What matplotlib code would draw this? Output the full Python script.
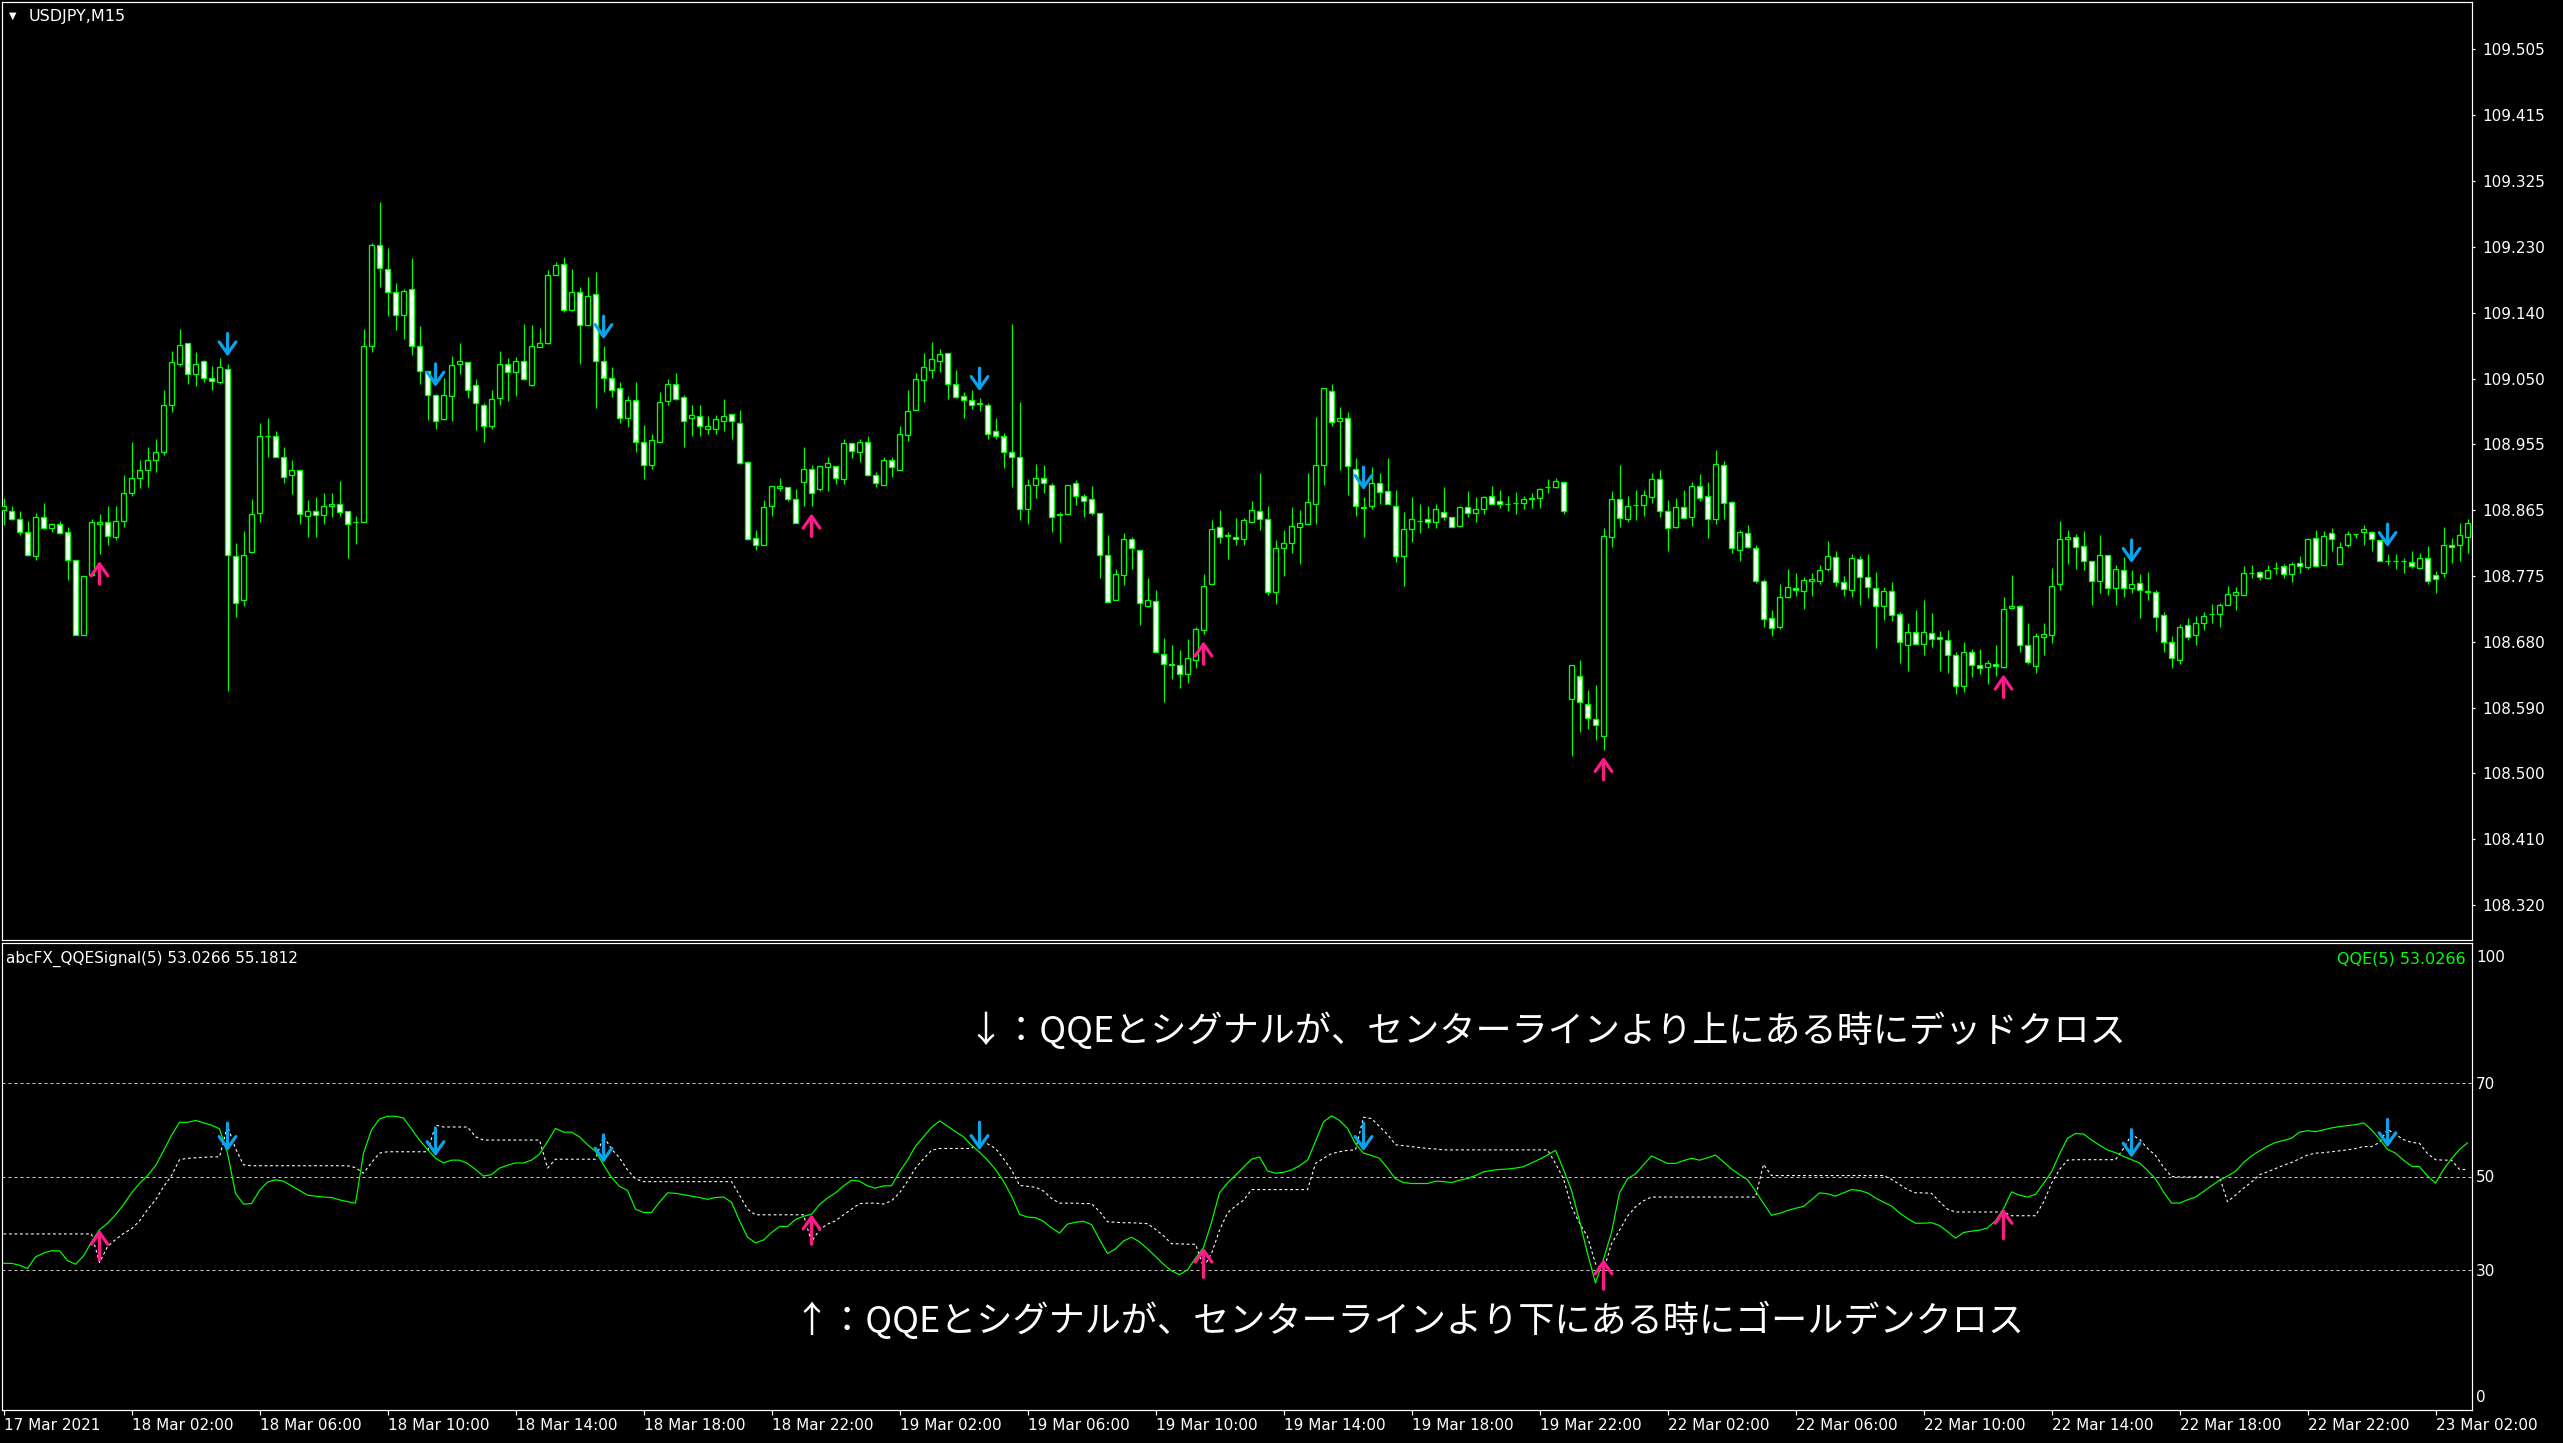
import matplotlib
matplotlib.use("Agg")
import matplotlib.pyplot as plt
import numpy as np

# USDJPY M15 candles (bar 0 = left edge)
opens = [
    108.867, 108.866, 108.855, 108.836, 108.803, 108.858, 108.842, 108.848, 108.836, 108.798,
    108.694, 108.777, 108.848, 108.851, 108.830, 108.852, 108.891, 108.912, 108.923, 108.936,
    108.948, 109.012, 109.069, 109.098, 109.055, 109.073, 109.050, 109.044, 109.063, 108.804,
    108.742, 108.809, 108.863, 108.969, 108.969, 108.941, 108.915, 108.923, 108.859, 108.866,
    108.860, 108.873, 108.875, 108.866, 108.850, 108.850, 109.094, 109.234, 109.201, 109.169,
    109.137, 109.173, 109.094, 109.059, 109.026, 108.993, 109.025, 109.069, 109.072, 109.040,
    109.012, 108.984, 109.022, 109.069, 109.058, 109.073, 109.040, 109.093, 109.098, 109.193,
    109.208, 109.144, 109.169, 109.123, 109.166, 109.073, 109.050, 109.036, 108.995, 109.019,
    108.962, 108.930, 108.962, 109.018, 109.041, 109.024, 108.994, 108.998, 108.980, 108.980,
    108.990, 109.000, 108.987, 108.933, 108.828, 108.819, 108.873, 108.898, 108.899, 108.882,
    108.906, 108.924, 108.896, 108.927, 108.928, 108.910, 108.960, 108.948, 108.962, 108.916,
    108.902, 108.937, 108.923, 108.971, 109.006, 109.047, 109.061, 109.074, 109.084, 109.041,
    109.025, 109.020, 109.015, 109.012, 108.976, 108.970, 108.948, 108.941, 108.869, 108.902,
    108.912, 108.902, 108.861, 108.861, 108.905, 108.887, 108.882, 108.863, 108.805, 108.742,
    108.777, 108.827, 108.812, 108.734, 108.741, 108.668, 108.654, 108.652, 108.640, 108.659,
    108.701, 108.765, 108.843, 108.832, 108.830, 108.827, 108.851, 108.866, 108.855, 108.753,
    108.814, 108.822, 108.843, 108.848, 108.876, 108.930, 109.032, 108.990, 108.995, 108.924,
    108.871, 108.872, 108.904, 108.893, 108.873, 108.803, 108.841, 108.852, 108.854, 108.851,
    108.864, 108.858, 108.845, 108.871, 108.863, 108.868, 108.886, 108.879, 108.876, 108.877,
    108.877, 108.883, 108.884, 108.899, 108.899, 108.906, 108.605, 108.637, 108.599, 108.578,
    108.554, 108.830, 108.882, 108.855, 108.874, 108.874, 108.885, 108.910, 108.866, 108.843,
    108.871, 108.858, 108.901, 108.886, 108.855, 108.930, 108.878, 108.812, 108.835, 108.815,
    108.769, 108.717, 108.705, 108.747, 108.759, 108.755, 108.769, 108.769, 108.785, 108.802,
    108.767, 108.756, 108.799, 108.775, 108.759, 108.734, 108.755, 108.723, 108.680, 108.698,
    108.681, 108.697, 108.691, 108.687, 108.666, 108.624, 108.671, 108.653, 108.650, 108.654,
    108.650, 108.731, 108.734, 108.680, 108.651, 108.691, 108.694, 108.764, 108.827, 108.830,
    108.817, 108.797, 108.769, 108.805, 108.759, 108.784, 108.759, 108.766, 108.755, 108.754,
    108.722, 108.685, 108.659, 108.708, 108.694, 108.710, 108.723, 108.723, 108.736, 108.750,
    108.750, 108.780, 108.781, 108.773, 108.787, 108.790, 108.778, 108.794, 108.788, 108.828,
    108.791, 108.835, 108.792, 108.818, 108.834, 108.837, 108.837, 108.825, 108.797, 108.797,
    108.797, 108.795, 108.787, 108.801, 108.777, 108.780, 108.819, 108.818, 108.830,
]
highs = [
    108.884, 108.873, 108.866, 108.852, 108.863, 108.877, 108.848, 108.852, 108.843, 108.798,
    108.776, 108.855, 108.861, 108.872, 108.873, 108.915, 108.962, 108.937, 108.955, 108.965,
    109.034, 109.087, 109.118, 109.098, 109.086, 109.075, 109.067, 109.078, 109.070, 108.821,
    108.838, 108.882, 108.988, 108.994, 108.977, 108.954, 108.936, 108.923, 108.881, 108.885,
    108.890, 108.890, 108.907, 108.866, 108.859, 109.118, 109.237, 109.294, 109.230, 109.181,
    109.173, 109.216, 109.122, 109.059, 109.028, 109.050, 109.081, 109.098, 109.072, 109.049,
    109.016, 109.034, 109.088, 109.078, 109.079, 109.125, 109.124, 109.119, 109.199, 109.210,
    109.218, 109.201, 109.176, 109.190, 109.197, 109.094, 109.065, 109.044, 109.025, 109.045,
    108.985, 108.972, 109.030, 109.049, 109.057, 109.026, 109.013, 109.013, 108.998, 108.999,
    109.021, 109.000, 109.005, 108.935, 108.839, 108.881, 108.900, 108.911, 108.899, 108.896,
    108.954, 108.929, 108.928, 108.940, 108.928, 108.966, 108.960, 108.966, 108.970, 108.920,
    108.940, 108.941, 108.983, 109.034, 109.057, 109.085, 109.100, 109.090, 109.084, 109.061,
    109.030, 109.034, 109.022, 109.015, 108.994, 108.974, 109.125, 109.017, 108.910, 108.931,
    108.930, 108.905, 108.865, 108.902, 108.909, 108.889, 108.901, 108.863, 108.832, 108.785,
    108.835, 108.830, 108.812, 108.773, 108.757, 108.690, 108.680, 108.673, 108.689, 108.705,
    108.779, 108.853, 108.867, 108.836, 108.856, 108.856, 108.879, 108.919, 108.872, 108.825,
    108.839, 108.871, 108.867, 108.918, 108.996, 109.036, 109.042, 109.010, 109.003, 108.939,
    108.885, 108.927, 108.918, 108.939, 108.895, 108.865, 108.885, 108.875, 108.872, 108.876,
    108.899, 108.858, 108.873, 108.893, 108.885, 108.887, 108.901, 108.895, 108.887, 108.892,
    108.886, 108.890, 108.898, 108.910, 108.912, 108.906, 108.653, 108.659, 108.618, 108.625,
    108.842, 108.893, 108.929, 108.886, 108.895, 108.895, 108.919, 108.923, 108.881, 108.884,
    108.895, 108.906, 108.917, 108.906, 108.950, 108.935, 108.880, 108.839, 108.846, 108.818,
    108.772, 108.728, 108.765, 108.786, 108.780, 108.774, 108.780, 108.791, 108.824, 108.811,
    108.776, 108.806, 108.804, 108.806, 108.781, 108.760, 108.767, 108.726, 108.710, 108.729,
    108.742, 108.724, 108.700, 108.701, 108.670, 108.684, 108.674, 108.675, 108.659, 108.680,
    108.747, 108.777, 108.736, 108.710, 108.697, 108.711, 108.787, 108.852, 108.840, 108.834,
    108.838, 108.797, 108.832, 108.805, 108.791, 108.802, 108.784, 108.779, 108.781, 108.757,
    108.726, 108.692, 108.709, 108.718, 108.720, 108.726, 108.737, 108.738, 108.762, 108.760,
    108.790, 108.791, 108.783, 108.791, 108.795, 108.793, 108.795, 108.803, 108.829, 108.839,
    108.838, 108.842, 108.823, 108.838, 108.834, 108.846, 108.838, 108.825, 108.806, 108.806,
    108.800, 108.811, 108.808, 108.817, 108.782, 108.844, 108.828, 108.849, 108.855,
]
lows = [
    108.846, 108.853, 108.832, 108.804, 108.798, 108.841, 108.837, 108.834, 108.770, 108.694,
    108.694, 108.776, 108.806, 108.819, 108.825, 108.843, 108.887, 108.898, 108.899, 108.920,
    108.944, 109.003, 109.067, 109.041, 109.039, 109.044, 109.033, 109.041, 108.616, 108.719,
    108.734, 108.807, 108.851, 108.940, 108.940, 108.905, 108.889, 108.848, 108.830, 108.830,
    108.848, 108.858, 108.859, 108.801, 108.820, 108.850, 109.086, 109.176, 109.136, 109.116,
    109.104, 109.082, 109.042, 108.992, 108.980, 108.992, 108.991, 109.056, 109.022, 108.978,
    108.962, 108.980, 109.013, 109.018, 109.025, 109.047, 109.039, 109.093, 109.097, 109.193,
    109.141, 109.143, 109.069, 109.122, 109.009, 109.030, 109.023, 108.987, 108.982, 108.947,
    108.910, 108.924, 108.961, 109.012, 109.020, 108.954, 108.969, 108.969, 108.973, 108.972,
    108.977, 108.965, 108.931, 108.826, 108.812, 108.819, 108.859, 108.893, 108.880, 108.849,
    108.872, 108.872, 108.893, 108.893, 108.903, 108.903, 108.939, 108.934, 108.914, 108.899,
    108.902, 108.913, 108.923, 108.963, 109.006, 109.017, 109.050, 109.058, 109.021, 109.022,
    108.995, 109.007, 109.004, 108.965, 108.965, 108.925, 108.899, 108.853, 108.848, 108.884,
    108.890, 108.837, 108.823, 108.861, 108.874, 108.858, 108.860, 108.773, 108.740, 108.742,
    108.763, 108.786, 108.708, 108.733, 108.670, 108.601, 108.633, 108.621, 108.628, 108.649,
    108.695, 108.765, 108.822, 108.799, 108.819, 108.819, 108.850, 108.840, 108.749, 108.737,
    108.776, 108.807, 108.793, 108.848, 108.848, 108.902, 108.984, 108.923, 108.888, 108.859,
    108.830, 108.868, 108.876, 108.876, 108.795, 108.762, 108.823, 108.835, 108.842, 108.842,
    108.853, 108.843, 108.844, 108.858, 108.851, 108.862, 108.875, 108.870, 108.866, 108.862,
    108.868, 108.870, 108.870, 108.891, 108.898, 108.862, 108.527, 108.560, 108.564, 108.548,
    108.535, 108.816, 108.843, 108.851, 108.853, 108.859, 108.877, 108.858, 108.811, 108.842,
    108.856, 108.845, 108.880, 108.828, 108.848, 108.855, 108.808, 108.796, 108.814, 108.766,
    108.705, 108.692, 108.702, 108.745, 108.748, 108.730, 108.748, 108.765, 108.783, 108.762,
    108.748, 108.746, 108.736, 108.745, 108.676, 108.715, 108.714, 108.655, 108.644, 108.680,
    108.666, 108.678, 108.644, 108.642, 108.612, 108.615, 108.636, 108.640, 108.626, 108.637,
    108.649, 108.731, 108.670, 108.654, 108.641, 108.667, 108.683, 108.756, 108.792, 108.786,
    108.784, 108.735, 108.752, 108.750, 108.736, 108.746, 108.752, 108.718, 108.742, 108.699,
    108.670, 108.648, 108.654, 108.687, 108.680, 108.701, 108.710, 108.705, 108.735, 108.728,
    108.750, 108.773, 108.770, 108.773, 108.779, 108.773, 108.767, 108.780, 108.786, 108.788,
    108.790, 108.811, 108.792, 108.816, 108.828, 108.819, 108.810, 108.796, 108.791, 108.785,
    108.780, 108.787, 108.786, 108.765, 108.752, 108.774, 108.794, 108.797, 108.808,
]
closes = [
    108.873, 108.855, 108.837, 108.805, 108.858, 108.842, 108.848, 108.835, 108.798, 108.694,
    108.776, 108.850, 108.851, 108.831, 108.852, 108.891, 108.912, 108.922, 108.937, 108.948,
    109.012, 109.072, 109.095, 109.055, 109.070, 109.050, 109.046, 109.065, 108.805, 108.738,
    108.805, 108.861, 108.969, 108.970, 108.941, 108.913, 108.923, 108.861, 108.866, 108.860,
    108.872, 108.875, 108.865, 108.848, 108.851, 109.094, 109.234, 109.202, 109.169, 109.137,
    109.171, 109.094, 109.060, 109.026, 108.990, 109.026, 109.068, 109.073, 109.034, 109.015,
    108.984, 109.021, 109.069, 109.058, 109.073, 109.048, 109.094, 109.098, 109.193, 109.207,
    109.144, 109.169, 109.123, 109.164, 109.073, 109.050, 109.034, 108.995, 109.019, 108.961,
    108.930, 108.964, 109.017, 109.041, 109.021, 108.991, 108.999, 108.984, 108.983, 108.993,
    108.998, 108.990, 108.932, 108.827, 108.819, 108.871, 108.900, 108.901, 108.883, 108.849,
    108.924, 108.891, 108.928, 108.932, 108.912, 108.960, 108.949, 108.962, 108.916, 108.905,
    108.936, 108.926, 108.973, 109.004, 109.048, 109.065, 109.076, 109.083, 109.041, 109.023,
    109.019, 109.013, 109.014, 108.973, 108.969, 108.947, 108.941, 108.868, 108.902, 108.911,
    108.905, 108.858, 108.860, 108.902, 108.887, 108.880, 108.863, 108.805, 108.740, 108.778,
    108.827, 108.814, 108.738, 108.742, 108.671, 108.654, 108.653, 108.640, 108.662, 108.702,
    108.762, 108.841, 108.830, 108.831, 108.827, 108.853, 108.867, 108.855, 108.753, 108.814,
    108.821, 108.845, 108.849, 108.878, 108.929, 109.036, 108.989, 108.995, 108.928, 108.872,
    108.870, 108.905, 108.892, 108.876, 108.804, 108.841, 108.854, 108.852, 108.851, 108.868,
    108.857, 108.844, 108.871, 108.863, 108.869, 108.885, 108.876, 108.875, 108.876, 108.877,
    108.882, 108.884, 108.896, 108.899, 108.907, 108.866, 108.653, 108.601, 108.579, 108.569,
    108.831, 108.882, 108.856, 108.873, 108.874, 108.888, 108.910, 108.866, 108.842, 108.871,
    108.856, 108.901, 108.884, 108.855, 108.931, 108.877, 108.815, 108.836, 108.816, 108.769,
    108.716, 108.704, 108.746, 108.761, 108.757, 108.770, 108.772, 108.784, 108.804, 108.768,
    108.758, 108.801, 108.775, 108.761, 108.734, 108.755, 108.722, 108.684, 108.698, 108.681,
    108.698, 108.689, 108.689, 108.666, 108.624, 108.671, 108.653, 108.648, 108.655, 108.651,
    108.730, 108.734, 108.680, 108.657, 108.692, 108.695, 108.762, 108.827, 108.830, 108.816,
    108.797, 108.769, 108.805, 108.759, 108.785, 108.759, 108.765, 108.756, 108.753, 108.719,
    108.684, 108.662, 108.705, 108.691, 108.710, 108.720, 108.723, 108.736, 108.751, 108.753,
    108.780, 108.780, 108.775, 108.784, 108.787, 108.779, 108.793, 108.790, 108.827, 108.790,
    108.831, 108.827, 108.816, 108.834, 108.834, 108.841, 108.827, 108.797, 108.797, 108.797,
    108.797, 108.790, 108.800, 108.769, 108.771, 108.818, 108.816, 108.833, 108.849,
]

# QQE(5) main line and its signal line, same bars
qqe = [
    31.4, 31.4, 31.0, 30.3, 32.8, 33.6, 34.1, 34.1, 32.0, 31.2,
    33.0, 36.0, 38.6, 40.0, 41.8, 44.0, 46.5, 48.5, 50.2, 52.3,
    55.5, 58.8, 61.6, 61.6, 62.0, 61.5, 61.0, 60.2, 55.0, 46.4,
    44.1, 44.2, 47.0, 48.8, 49.3, 49.0, 48.0, 47.0, 46.0, 45.8,
    45.6, 45.5, 45.0, 44.6, 44.3, 55.0, 60.0, 62.3, 62.9, 62.9,
    62.5, 60.2, 57.8, 55.8, 53.9, 52.9, 53.5, 53.5, 52.8, 51.5,
    50.1, 50.4, 51.8, 52.4, 52.9, 52.9, 53.5, 54.8, 57.5, 60.3,
    59.5, 59.5, 58.5, 56.8, 55.4, 52.5, 49.8, 47.9, 47.0, 43.0,
    42.3, 42.3, 44.5, 46.5, 46.4, 46.1, 45.8, 45.5, 45.1, 45.5,
    45.6, 44.5, 40.5, 37.0, 35.8, 36.4, 38.0, 39.3, 39.3, 40.8,
    41.5, 41.9, 44.0, 45.4, 46.5, 48.0, 49.2, 49.0, 48.0, 47.5,
    48.0, 48.0, 51.0, 53.5, 56.5, 58.5, 60.5, 61.9, 60.8, 59.6,
    58.5, 56.7, 55.2, 53.5, 51.5, 49.0, 45.8, 41.9, 41.3, 41.2,
    40.4, 39.0, 37.9, 39.8, 40.2, 40.4, 39.7, 36.5, 33.5, 34.5,
    36.2, 37.0, 36.0, 34.5, 32.9, 31.2, 29.8, 29.0, 30.0, 32.5,
    34.8, 40.2, 46.5, 48.6, 50.3, 52.0, 53.7, 54.2, 51.2, 50.7,
    50.9, 51.4, 52.3, 53.5, 57.5, 61.7, 63.0, 62.0, 60.3, 57.0,
    55.0, 54.5, 53.9, 51.8, 49.5, 48.7, 48.5, 48.5, 48.5, 49.0,
    48.9, 48.7, 49.2, 49.6, 50.2, 51.0, 51.3, 51.5, 51.6, 51.8,
    52.1, 52.9, 53.7, 54.6, 55.6, 51.5, 47.0, 40.5, 33.5, 27.2,
    32.3, 38.0, 46.5, 49.5, 50.6, 52.5, 54.4, 53.6, 52.8, 52.8,
    53.4, 53.9, 53.5, 54.0, 54.6, 53.1, 51.6, 50.4, 49.3, 46.9,
    44.2, 41.7, 42.1, 42.7, 43.2, 43.6, 45.0, 46.5, 46.3, 45.8,
    46.5, 47.2, 47.0, 46.5, 45.4, 44.5, 43.7, 42.2, 41.0, 40.0,
    40.0, 40.1, 39.5, 38.2, 36.8, 38.0, 38.3, 38.5, 39.0, 40.5,
    43.1, 46.7, 46.0, 45.6, 46.2, 48.5, 51.0, 54.8, 58.2, 59.2,
    59.1, 57.8, 56.7, 55.7, 55.1, 54.3, 53.6, 52.9, 51.3, 49.5,
    46.7, 44.3, 44.3, 45.0, 45.6, 46.8, 48.0, 49.2, 50.1, 51.1,
    53.0, 54.4, 55.5, 56.5, 57.3, 57.7, 58.2, 59.5, 59.8, 59.6,
    60.0, 60.4, 60.7, 60.9, 61.1, 61.5, 60.0, 58.0, 55.8, 55.0,
    53.5, 52.2, 52.1, 50.1, 48.6, 51.5, 53.8, 55.8, 57.2,
]
signal = [
    37.7, 37.7, 37.7, 37.7, 37.7, 37.7, 37.7, 37.7, 37.7, 37.7,
    37.7, 37.7, 31.6, 35.0, 36.5, 37.8, 38.8, 40.5, 42.9, 45.0,
    47.8, 50.2, 53.6, 53.9, 54.0, 54.1, 54.2, 54.2, 60.8, 56.0,
    52.5, 52.3, 52.3, 52.3, 52.3, 52.3, 52.3, 52.3, 52.3, 52.3,
    52.3, 52.3, 52.3, 52.3, 51.9, 50.7, 53.0, 55.0, 55.3, 55.3,
    55.3, 55.3, 55.3, 55.3, 61.0, 60.6, 60.6, 60.6, 60.6, 58.5,
    57.8, 57.8, 57.8, 57.8, 57.8, 57.8, 57.8, 57.8, 51.8, 53.7,
    53.7, 53.7, 53.7, 53.7, 53.7, 58.6, 55.9, 54.0, 51.4, 49.5,
    48.9, 48.9, 48.9, 48.9, 48.9, 48.9, 48.9, 48.9, 48.9, 48.9,
    48.9, 48.9, 46.0, 43.0, 41.8, 41.8, 41.8, 41.8, 41.8, 41.8,
    41.8, 36.0, 38.6, 39.8, 40.5, 41.8, 43.0, 44.2, 44.3, 44.3,
    44.1, 44.8, 46.5, 49.0, 51.8, 53.8, 55.6, 56.0, 56.0, 56.0,
    56.0, 56.0, 58.2, 57.0, 56.0, 53.8, 51.4, 48.1, 47.9, 47.7,
    46.9, 45.3, 44.3, 44.3, 44.3, 44.2, 44.2, 42.5, 40.3, 40.2,
    40.1, 40.1, 40.0, 39.9, 38.7, 37.3, 35.6, 35.6, 35.5, 35.5,
    30.6, 33.5, 38.5, 42.2, 43.7, 44.9, 47.2, 47.2, 47.2, 47.2,
    47.2, 47.2, 47.2, 47.2, 52.8, 53.9, 54.9, 55.3, 55.6, 55.7,
    62.7, 62.4, 60.7, 59.0, 56.8, 56.6, 56.4, 56.2, 56.0, 55.9,
    55.7, 55.7, 55.7, 55.7, 55.7, 55.7, 55.7, 55.7, 55.7, 55.7,
    55.7, 55.7, 55.7, 55.7, 52.8, 49.5, 43.5, 40.0, 37.1, 31.3,
    29.9, 35.6, 38.5, 41.5, 43.5, 44.8, 45.6, 45.6, 45.6, 45.6,
    45.6, 45.6, 45.6, 45.6, 45.6, 45.6, 45.6, 45.6, 45.6, 45.6,
    52.6, 50.2, 50.2, 50.2, 50.2, 50.2, 50.2, 50.2, 50.2, 50.2,
    50.2, 50.2, 50.2, 50.2, 50.2, 50.2, 49.4, 48.3, 47.2, 46.5,
    46.5, 46.4, 44.6, 43.0, 42.4, 42.4, 42.4, 42.4, 42.4, 42.4,
    42.4, 41.6, 41.6, 41.6, 41.6, 44.5, 48.5, 51.5, 53.5, 53.6,
    53.6, 53.6, 53.6, 53.6, 53.6, 56.0, 58.9, 58.0, 56.0, 54.5,
    52.0, 50.0, 49.9, 49.9, 49.9, 49.9, 49.9, 49.9, 44.6, 46.0,
    47.5, 48.8, 50.4, 51.0, 51.7, 52.4, 53.0, 53.8, 54.6, 55.0,
    55.1, 55.3, 55.5, 55.7, 56.0, 56.4, 56.4, 57.3, 60.1, 59.0,
    57.9, 57.3, 57.1, 54.9, 53.6, 53.5, 53.5, 51.5, 51.5,
]

sell_bars = [28, 54, 75, 122, 170, 266, 298]   # dead cross above 50
buy_bars = [12, 101, 150, 200, 250]             # golden cross below 50

time_labels = ["17 Mar 2021", "18 Mar 02:00", "18 Mar 06:00", "18 Mar 10:00", "18 Mar 14:00",
               "18 Mar 18:00", "18 Mar 22:00", "19 Mar 02:00", "19 Mar 06:00", "19 Mar 10:00",
               "19 Mar 14:00", "19 Mar 18:00", "19 Mar 22:00", "22 Mar 02:00", "22 Mar 06:00",
               "22 Mar 10:00", "22 Mar 14:00", "22 Mar 18:00", "22 Mar 22:00", "23 Mar 02:00"]
price_labels = ["108.320", "108.410", "108.500", "108.590", "108.680", "108.775", "108.865",
                "108.955", "109.050", "109.140", "109.230", "109.325", "109.415", "109.505"]
qqe_levels = [70, 50, 30]

n = len(closes)
assert len(opens) == len(highs) == len(lows) == n
assert len(qqe) == len(signal) == n

W, H = 2563, 1443
PX = 72.0 / 100  # one pixel in points
GREEN = "#00ff00"
BLUE = "#0aa2e8"
PINK = "#ff1a8c"
LBL = dict(color="white", fontsize=11, family="DejaVu Sans")
JP = ["Noto Sans CJK JP", "DejaVu Sans"]
HEAD = "->,head_length=0.85,head_width=0.6"

fig = plt.figure(figsize=(W / 100, H / 100), dpi=100, facecolor="black")
ax = fig.add_axes([2 / W, 1 - 940 / H, 2470 / W, 938 / H], facecolor="black")
ax2 = fig.add_axes([2 / W, 1 - 1410 / H, 2470 / W, 467 / H], facecolor="black")

for a in (ax, ax2):
    for s in a.spines.values():
        s.set_color("white")
        s.set_linewidth(1.2 * PX)
    a.set_xlim(-0.19, 308.56)

# ---- candles ----
x = np.arange(n)
o, h, l, c = (np.array(v) for v in (opens, highs, lows, closes))
bear = c < o
lo = np.minimum(o, c)
ht = np.maximum(np.abs(c - o), 1e-5)
ax.vlines(x, l, h, color=GREEN, lw=1.2 * PX, zorder=2)
ax.bar(x, ht, bottom=lo, width=0.56, color=np.where(bear, "white", "black"),
       edgecolor=GREEN, linewidth=1.3 * PX, zorder=3)

ax.set_ylim(108.2716, 109.5707)
ax.set_xticks([])
ax.yaxis.tick_right()
ax.set_yticks(np.linspace(108.320, 109.505, len(price_labels)))
ax.set_yticklabels(price_labels)
ax.tick_params(axis="y", colors="white", labelcolor="white", labelsize=11,
               length=3 * PX, width=1.2 * PX, pad=7 * PX)


def draw_arrow(a, i, y, up, color, gap=0):
    dy = -30 if up else 30
    a.annotate("", xy=(i, y), xytext=(0, dy), textcoords="offset pixels",
               arrowprops=dict(arrowstyle=HEAD, color=color, lw=3.2 * PX,
                               mutation_scale=10, shrinkA=0, shrinkB=gap))


for i in sell_bars:
    draw_arrow(ax, i, highs[i], False, BLUE, gap=7 * PX)
for i in buy_bars:
    draw_arrow(ax, i, lows[i], True, PINK, gap=7 * PX)

# ---- QQE panel ----
ax2.set_ylim(0, 100)
for lv in qqe_levels:
    ax2.axhline(lv, color="#c8c8c8", lw=1 * PX, dashes=(3, 3), zorder=1)
ax2.plot(x, signal, color="white", lw=1.1 * PX, dashes=(2.5, 2.5), zorder=2)
ax2.plot(x, qqe, color=GREEN, lw=1.2 * PX, zorder=3)
for i in sell_bars:
    draw_arrow(ax2, i, qqe[i], False, BLUE, gap=2 * PX)
for i in buy_bars:
    draw_arrow(ax2, i, qqe[i], True, PINK)

ax2.yaxis.tick_right()
ax2.set_yticks(qqe_levels)
ax2.set_yticklabels([str(v) for v in qqe_levels])
ax2.tick_params(axis="y", colors="white", labelcolor="white", labelsize=11,
                length=0, pad=4 * PX)
ax2.annotate("100", xy=(1, 1), xycoords="axes fraction", xytext=(4, -14),
             textcoords="offset pixels", ha="left", va="center", **LBL)
ax2.annotate("0", xy=(1, 0), xycoords="axes fraction", xytext=(4, 12),
             textcoords="offset pixels", ha="left", va="center", **LBL)

ax2.set_xticks(np.arange(0, n, 16)[:len(time_labels)])
ax2.set_xticklabels(time_labels, ha="left")
ax2.tick_params(axis="x", colors="white", labelcolor="white", labelsize=11,
                length=5 * PX, width=1.2 * PX, pad=3 * PX)

# ---- captions ----
fig.text(13 / W, 1 - 16 / H, "\u25bc", color="white", fontsize=7, ha="center", va="center")
fig.text(29 / W, 1 - 17 / H, "USDJPY,M15", ha="left", va="center",
         color="white", fontsize=11.5, family="DejaVu Sans")
fig.text(6 / W, 1 - 959 / H, "abcFX_QQESignal(5) 53.0266 55.1812", ha="left", va="center", **LBL)
fig.text(2466 / W, 1 - 959 / H, "QQE(5) 53.0266", ha="right", va="center",
         color=GREEN, fontsize=11.5, family="DejaVu Sans")

fig.text(1547 / W, 1 - 1031 / H, "↓：QQEとシグナルが、センターラインより上にある時にデッドクロス",
         color="white", fontsize=26, family=JP, ha="center", va="center")
fig.text(1409 / W, 1 - 1321 / H, "↑：QQEとシグナルが、センターラインより下にある時にゴールデンクロス",
         color="white", fontsize=26, family=JP, ha="center", va="center")

fig.savefig("out.png", dpi=100, facecolor="black")
